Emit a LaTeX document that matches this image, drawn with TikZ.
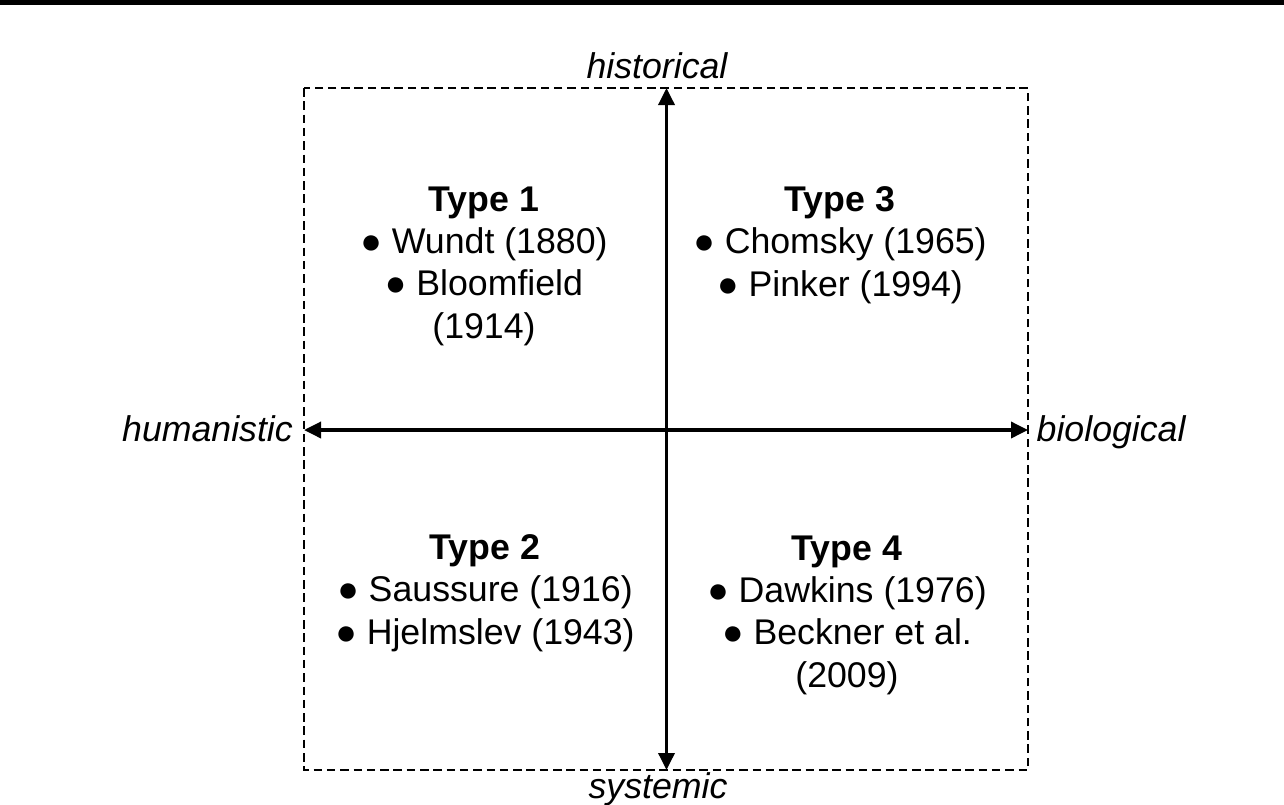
\documentclass[tikz,border=0pt]{standalone}
\usepackage{fontspec}
\setmainfont{Liberation Sans}
\usetikzlibrary{arrows.meta}
\tikzset{
  axis/.style={line width=3.5pt, {Triangle[length=17pt,width=16pt]}-{Triangle[length=17pt,width=16pt]}},
  frame/.style={line width=2.8pt, dash pattern=on 8.5pt off 4.8pt},
  quad/.style={align=center, inner sep=0pt, font=\fontsize{35.7}{42.3}\selectfont},
  axlabel/.style={inner sep=0pt, font=\fontsize{35.7}{42.3}\selectfont\itshape}
}
\begin{document}
\begin{tikzpicture}[x=1pt,y=-1pt]
\useasboundingbox (0,0) rectangle (1284,804);
\fill[black] (0,0) rectangle (1284,5);
\coordinate (tl) at (304,88);
\coordinate (br) at (1028,770);
\draw[frame] (tl) rectangle (br);
\coordinate (top) at (666.5,88);
\coordinate (bot) at (666.5,770);
\coordinate (lft) at (304,430);
\coordinate (rgt) at (1028,430);
\draw[axis] (bot) -- (top);
\draw[axis] (lft) -- (rgt);
\node[axlabel, anchor=base] (hist) at (657,78) {historical};
\node[axlabel, anchor=base] (sys) at (658,798) {systemic};
\node[axlabel, anchor=base east] (hum) at (293,441.5) {humanistic};
\node[axlabel, anchor=base west] (bio) at (1036.5,441.5) {biological};
\node[quad, anchor=base] (t1) at (484,338) {\textbf{Type 1}\\● Wundt (1880)\\● Bloomfield\\(1914)};
\node[quad, anchor=base] (t3) at (840,296) {\textbf{Type 3}\\● Chomsky (1965)\\● Pinker (1994)};
\node[quad, anchor=base] (t2) at (485,644) {\textbf{Type 2}\\● Saussure (1916)\\● Hjelmslev (1943)};
\node[quad, anchor=base] (t4) at (847,687) {\textbf{Type 4}\\● Dawkins (1976)\\● Beckner et al.\\(2009)};
\end{tikzpicture}
\end{document}
